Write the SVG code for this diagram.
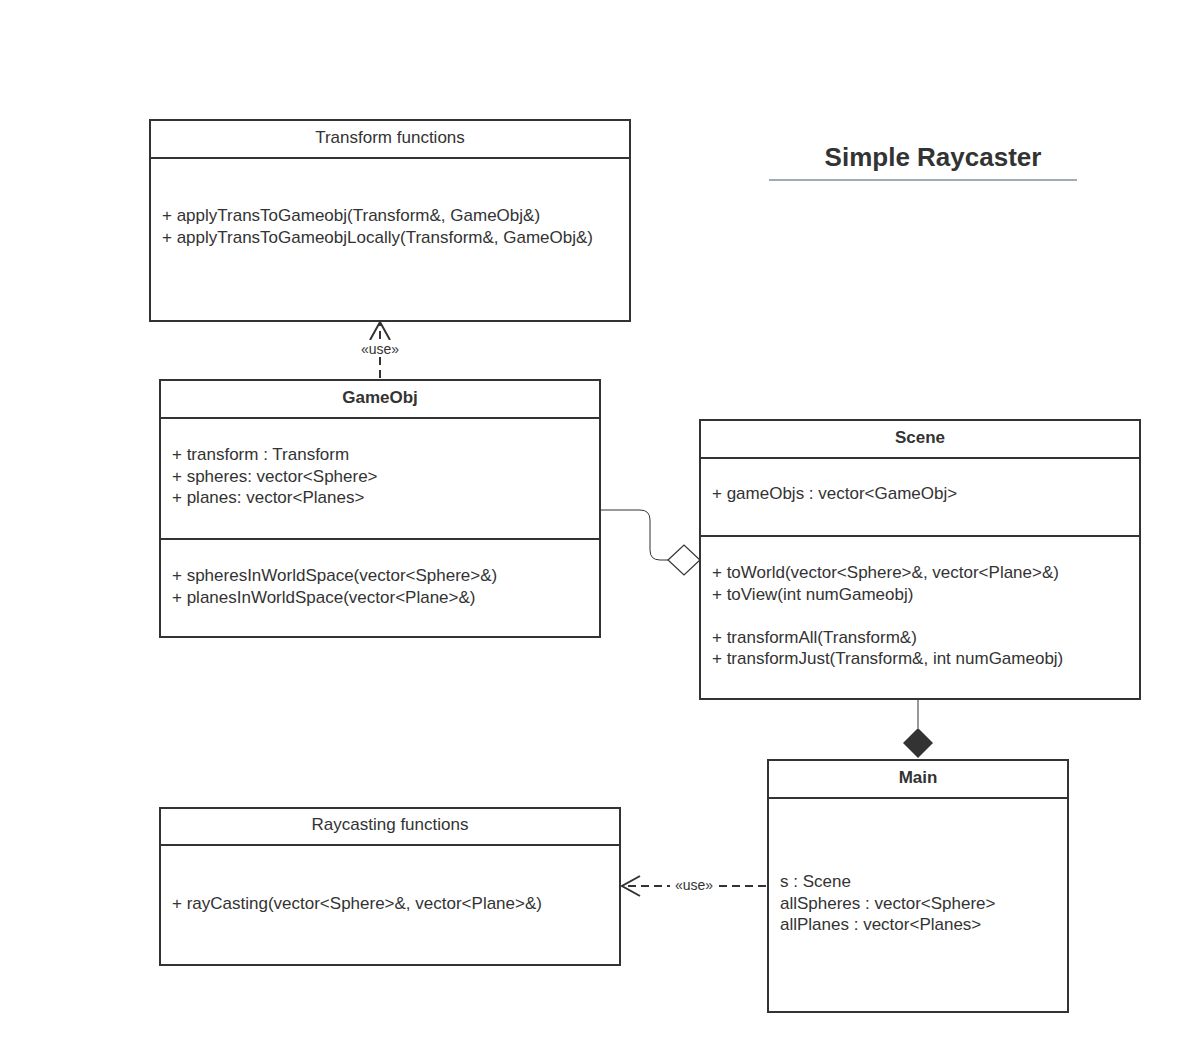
<svg xmlns="http://www.w3.org/2000/svg" width="1180" height="1053" viewBox="0 0 1180 1053">
<style>
.box{fill:#fff;stroke:#333;stroke-width:2}
.ln{stroke:#333;stroke-width:2;fill:none}
text{font-family:"Liberation Sans",Arial,sans-serif;font-size:17px;fill:#333}
.t{text-anchor:middle}
.b{font-weight:bold}
.c{stroke:#333;stroke-width:2;fill:none;stroke-dasharray:8,5}
</style>
<rect width="1180" height="1053" fill="#fff"/>
<text x="933" y="166" class="t b" style="font-size:26px">Simple Raycaster</text>
<line x1="769" y1="180" x2="1077" y2="180" stroke="#a0aab8" stroke-width="2"/>
<g id="connectors">
<path class="c" d="M380 378 V324"/>
<path class="ln" d="M370 340 L380 322 L390 340" stroke-width="1.5"/>
<rect x="356" y="340" width="48" height="16" fill="#fff"/>
<text x="380" y="354" class="t" style="font-size:14px">«use»</text>
<path d="M601 510 H640 Q650 510 650 520 V550 Q650 560 660 560 H668" stroke="#333" stroke-width="1" fill="none"/>
<path d="M668 560 L684 545 L700 560 L684 575 Z" fill="#fff" stroke="#333" stroke-width="1.2"/>
<line x1="918" y1="700" x2="918" y2="728" stroke="#333" stroke-width="1"/>
<path d="M918 728 L933 743 L918 758 L903 743 Z" fill="#333"/>
<path class="c" d="M766 886 H623"/>
<path class="ln" d="M640 876 L622 886 L640 896" stroke-width="1.5"/>
<rect x="670" y="878" width="48" height="16" fill="#fff"/>
<text x="694" y="890" class="t" style="font-size:14px">«use»</text>
</g>
<g id="transform">
<rect class="box" x="150" y="120" width="480" height="201"/>
<line class="ln" x1="150" y1="158" x2="630" y2="158"/>
<text x="390" y="143" class="t">Transform functions</text>
<text x="162" y="221">+ applyTransToGameobj(Transform&amp;, GameObj&amp;)</text>
<text x="162" y="243">+ applyTransToGameobjLocally(Transform&amp;, GameObj&amp;)</text>
</g>
<g id="gameobj">
<rect class="box" x="160" y="380" width="440" height="257"/>
<line class="ln" x1="160" y1="418" x2="600" y2="418"/>
<line class="ln" x1="160" y1="539" x2="600" y2="539"/>
<text x="380" y="403" class="t b">GameObj</text>
<text x="172" y="460">+ transform : Transform</text>
<text x="172" y="482">+ spheres: vector&lt;Sphere&gt;</text>
<text x="172" y="503">+ planes: vector&lt;Planes&gt;</text>
<text x="172" y="581">+ spheresInWorldSpace(vector&lt;Sphere&gt;&amp;)</text>
<text x="172" y="603">+ planesInWorldSpace(vector&lt;Plane&gt;&amp;)</text>
</g>
<g id="scene">
<rect class="box" x="700" y="420" width="440" height="279"/>
<line class="ln" x1="700" y1="458" x2="1140" y2="458"/>
<line class="ln" x1="700" y1="536" x2="1140" y2="536"/>
<text x="920" y="443" class="t b">Scene</text>
<text x="712" y="499">+ gameObjs : vector&lt;GameObj&gt;</text>
<text x="712" y="578">+ toWorld(vector&lt;Sphere&gt;&amp;, vector&lt;Plane&gt;&amp;)</text>
<text x="712" y="600">+ toView(int numGameobj)</text>
<text x="712" y="643">+ transformAll(Transform&amp;)</text>
<text x="712" y="664">+ transformJust(Transform&amp;, int numGameobj)</text>
</g>
<g id="main">
<rect class="box" x="768" y="760" width="300" height="252"/>
<line class="ln" x1="768" y1="798" x2="1068" y2="798"/>
<text x="918" y="783" class="t b">Main</text>
<text x="780" y="887">s : Scene</text>
<text x="780" y="909">allSpheres : vector&lt;Sphere&gt;</text>
<text x="780" y="930">allPlanes : vector&lt;Planes&gt;</text>
</g>
<g id="raycasting">
<rect class="box" x="160" y="808" width="460" height="157"/>
<line class="ln" x1="160" y1="845" x2="620" y2="845"/>
<text x="390" y="830" class="t">Raycasting functions</text>
<text x="172" y="909">+ rayCasting(vector&lt;Sphere&gt;&amp;, vector&lt;Plane&gt;&amp;)</text>
</g>
</svg>
